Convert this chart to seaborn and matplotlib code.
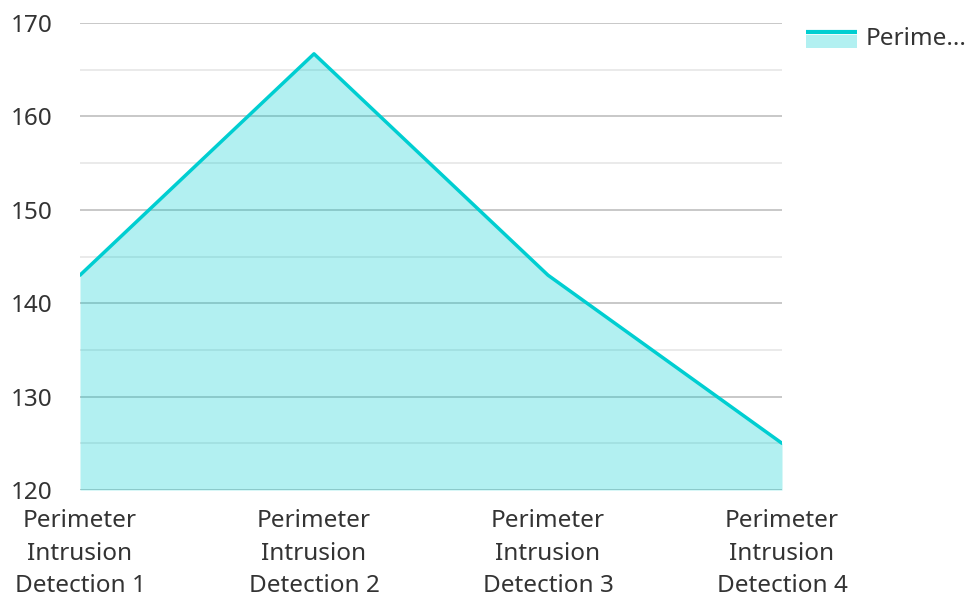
import matplotlib
matplotlib.use("Agg")
import matplotlib.pyplot as plt
import seaborn as sns
import pandas as pd
from matplotlib.legend_handler import HandlerBase
from matplotlib.patches import Rectangle
from matplotlib.lines import Line2D

categories = ["Perimeter\nIntrusion\nDetection 1", "Perimeter\nIntrusion\nDetection 2",
              "Perimeter\nIntrusion\nDetection 3", "Perimeter\nIntrusion\nDetection 4"]
values = [143, 166.7, 143, 125]
series_name = "Perime..."

LINE = "#00CED1"
TEXT = "#333333"

sns.set_theme(style="white")
plt.rcParams['font.family'] = ['Noto Sans', 'DejaVu Sans']

df = pd.DataFrame({"pos": range(len(categories)), "value": values})

fig = plt.figure(figsize=(9.69, 5.94), dpi=100)
ax = fig.add_axes([80 / 969, 104 / 594, 702 / 969, 467 / 594])

ax.fill_between(df["pos"], 120, df["value"], color=LINE, alpha=0.3, linewidth=0, zorder=2)
sns.lineplot(data=df, x="pos", y="value", ax=ax, color=LINE, linewidth=2.5, zorder=3)

ax.set_xlim(0, len(categories) - 1)
ax.set_ylim(120, 170)
ax.set_yticks(range(120, 171, 10))
ax.set_yticks(range(125, 170, 10), minor=True)
ax.grid(which="major", axis="y", color="#BFBFBF", linewidth=1.2)
ax.grid(which="minor", axis="y", color="#E6E6E6", linewidth=1.2)
ax.grid(axis="x", visible=False)
ax.set_axisbelow(True)
for s in ax.spines.values():
    s.set_visible(False)

ax.set_xticks(df["pos"])
ax.set_xticklabels(categories, linespacing=1.45)
ax.tick_params(axis="both", which="both", length=0, labelsize=17.5, colors=TEXT)
ax.tick_params(axis="y", pad=19.5)
ax.tick_params(axis="x", pad=14)
ax.set_xlabel("")
ax.set_ylabel("")


class AreaHandler(HandlerBase):
    def create_artists(self, legend, orig_handle, xdescent, ydescent, width, height, fontsize, trans):
        rect = Rectangle((-xdescent, -ydescent - 3), width, height * 0.8 + 1, facecolor=LINE, alpha=0.3,
                         edgecolor="none", transform=trans)
        line = Line2D([-xdescent, -xdescent + width], [-ydescent + height * 0.8] * 2,
                      color=LINE, linewidth=3, solid_capstyle="butt", transform=trans)
        return [rect, line]


handle = Rectangle((0, 0), 1, 1)
fig.legend([handle], [series_name], handler_map={Rectangle: AreaHandler()},
           loc="upper left", bbox_to_anchor=(806 / 969, 1 - 27 / 594), frameon=False,
           fontsize=17.5, handlelength=2.1, handleheight=0.6, handletextpad=0.35,
           labelcolor=TEXT, borderaxespad=0, borderpad=0)

fig.savefig("out.png", dpi=100)
